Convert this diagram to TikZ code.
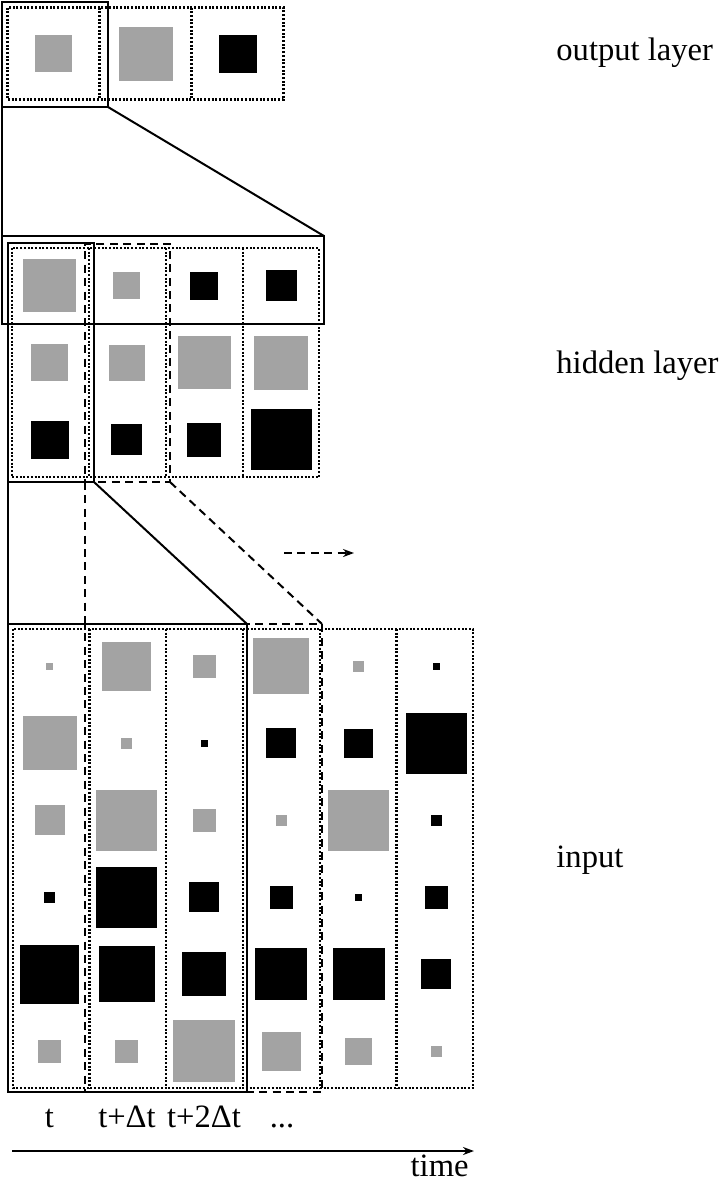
\documentclass[tikz,border=0pt]{standalone}
\usepackage{fontspec}
\setmainfont{Liberation Serif}
\usetikzlibrary{fit,arrows.meta}
\definecolor{cellgray}{RGB}{163,163,163}
\newcommand{\cellsq}[4]{\fill[#4] ({#1-#3/2},{#2-#3/2}) rectangle ({#1+#3/2},{#2+#3/2});}

\begin{document}
\begin{tikzpicture}[x=0.5pt,y=-0.5pt,
  gsq/.style={fill=cellgray},
  bsq/.style={fill=black},
  dotbox/.style={line width=1.15pt,dash pattern=on 1pt off 0.85pt},
  selbox/.style={draw,line width=1pt,inner sep=0pt,outer sep=0pt},
  nextbox/.style={selbox,dash pattern=on 4pt off 2.7pt},
  link/.style={line width=1pt},
  dlink/.style={link,dash pattern=on 4pt off 2.7pt},
  tip/.style={-{Stealth[length=5.5pt,width=4pt]}},
  lbl/.style={font=\fontsize{16.3}{19.5}\selectfont,inner sep=0pt}]
\useasboundingbox (0,0) rectangle (720,1180);

% output layer
\foreach \c/\s [count=\i] in {gsq/37,gsq/54,bsq/38} {
  \cellsq{53.5+92*(\i-1)}{53.5}{\s}{\c}
}
\draw[dotbox] (7.5,7.5) rectangle (283.5,99.5);
\foreach \x in {99.5,191.5} \draw[dotbox] (\x,7.5) -- (\x,99.5);

% hidden layer
\foreach \r/\row in {1/{gsq/53,gsq/27,bsq/28,bsq/31},
                     2/{gsq/37,gsq/36,gsq/53,gsq/54},
                     3/{bsq/38,bsq/31,bsq/34,bsq/61}} {
  \foreach \c/\s [count=\i] in \row {
    \cellsq{49.5+77.3*(\i-1)}{285.5+77*(\r-1)}{\s}{\c}
  }
}
\draw[dotbox] (12,248) rectangle (319,477);
\foreach \x in {89,166,243} \draw[dotbox] (\x,248) -- (\x,477);

% input
\foreach \r/\row in {1/{gsq/7,gsq/49,gsq/23,gsq/56,gsq/11,bsq/7},
                     2/{gsq/54,gsq/11,bsq/7,bsq/30,bsq/29,bsq/61},
                     3/{gsq/30,gsq/61,gsq/23,gsq/11,gsq/61,bsq/11},
                     4/{bsq/11,bsq/61,bsq/30,bsq/23,bsq/7,bsq/23},
                     5/{bsq/59,bsq/56,bsq/44,bsq/52,bsq/52,bsq/30},
                     6/{gsq/23,gsq/23,gsq/62,gsq/39,gsq/27,gsq/11}} {
  \foreach \c/\s [count=\i] in \row {
    \cellsq{49.5+77.3*(\i-1)}{666+77*(\r-1)}{\s}{\c}
  }
}
\draw[dotbox] (13,629) rectangle (473,1088);
\foreach \x in {89.5,166,243,320,396.5} \draw[dotbox] (\x,629) -- (\x,1088);

% selection windows
\node[selbox,fit={(2,2) (108,107)}] (outsel) {};
\node[selbox,fit={(2,236) (324,324)}] (hidrow) {};
\node[selbox,fit={(8,243) (94,482)}] (hidcol) {};
\node[nextbox,fit={(85,244) (170,482)}] (hidnext) {};
\node[selbox,fit={(8,624) (247,1092)}] (insel) {};
\node[nextbox,fit={(85,624) (322,1092)}] (innext) {};

\draw[link] (outsel.south west) -- (hidrow.north west);
\draw[link] (outsel.south east) -- (hidrow.north east);
\draw[link] (hidcol.south west) -- (insel.north west);
\draw[link] (hidcol.south east) -- (insel.north east);
\draw[dlink] (hidnext.south west) -- (innext.north west);
\draw[dlink] (hidnext.south east) -- (innext.north east);

% shift and time axis
\coordinate (shiftA) at (284,553);
\coordinate (shiftB) at (354,553);
\draw[dlink,tip] (shiftA) -- (shiftB);
\coordinate (time0) at (12,1151);
\coordinate (time1) at (474,1151);
\draw[link,tip] (time0) -- (time1);

% labels
\node[lbl,anchor=base west] (outlbl) at (556,60) {output layer};
\node[lbl,anchor=base west] (hidlbl) at (556,373) {hidden layer};
\node[lbl,anchor=base west] (inlbl) at (556,867) {input};
\node[lbl,anchor=base] (tick1) at (49.5,1127) {t};
\node[lbl,anchor=base] (tick2) at (127,1127) {t+Δt};
\node[lbl,anchor=base] (tick3) at (204,1127) {t+2Δt};
\node[lbl,anchor=base] (tick4) at (282,1127) {...};
\node[lbl,anchor=base east] (timelbl) at (469,1176) {time};
\end{tikzpicture}
\end{document}
